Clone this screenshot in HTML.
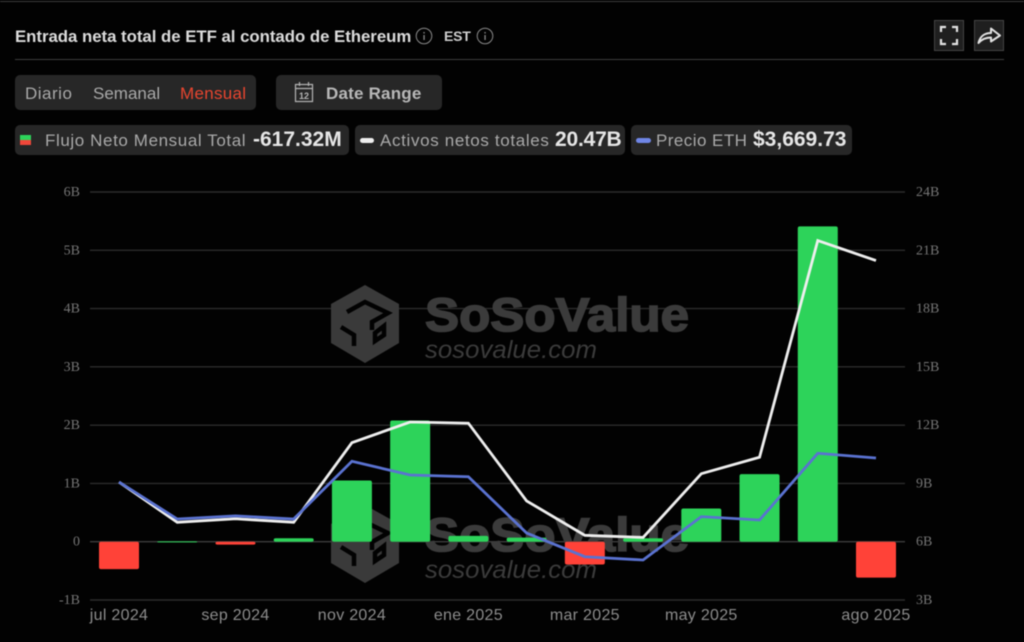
<!DOCTYPE html>
<html lang="es">
<head>
<meta charset="utf-8">
<title>Entrada neta total de ETF al contado de Ethereum</title>
<style>
html,body{margin:0;padding:0;background:#020202;}
#page{position:relative;width:1024px;height:642px;overflow:hidden;background:#020202;font-family:"Liberation Sans",sans-serif;filter:blur(0.5px);}
.abs{position:absolute;white-space:nowrap;}
.panel{position:absolute;background:#272727;border-radius:5px;}
.lbl{color:#a9a9a9;font-size:17px;}
.val{color:#e6e6e6;font-size:21px;font-weight:bold;}
svg{position:absolute;left:0;top:0;}
</style>
</head>
<body>
<div id="page">
  <div class="abs" style="left:0;top:1px;width:1024px;height:1px;background:#3a3a3a"></div>
  <div class="abs" id="title" style="left:15px;top:27px;font-size:16.8px;font-weight:bold;color:#dcdcdc;letter-spacing:-.02px">Entrada neta total de ETF al contado de Ethereum</div>
  <svg style="left:414px;top:26px" width="20" height="20"><circle cx="10" cy="10" r="7.8" fill="none" stroke="#8a8a8a" stroke-width="1"/><rect x="9.4" y="9" width="1.3" height="5" fill="#8a8a8a"/><rect x="9.4" y="6" width="1.3" height="1.5" fill="#8a8a8a"/></svg>
  <div class="abs" style="left:444px;top:28px;font-size:14px;font-weight:bold;color:#cfcfcf;letter-spacing:-.2px">EST</div>
  <svg style="left:475px;top:26px" width="20" height="20"><circle cx="10" cy="10" r="7.8" fill="none" stroke="#8a8a8a" stroke-width="1"/><rect x="9.4" y="9" width="1.3" height="5" fill="#8a8a8a"/><rect x="9.4" y="6" width="1.3" height="1.5" fill="#8a8a8a"/></svg>

  <svg style="left:934px;top:20px" width="31" height="32"><rect x=".5" y=".5" width="29" height="30" fill="#1f1f1f" stroke="#444"/><path d="M7 12V7h5M18 7h5v5M23 19v5h-5M12 24H7v-5" fill="none" stroke="#e2e2e2" stroke-width="2.2"/></svg>
  <svg style="left:974px;top:20px" width="31" height="32"><rect x=".5" y=".5" width="29" height="30" fill="#1f1f1f" stroke="#444"/><path d="M4.5 23C6 16 11 13 17 13V8.5L26 15.500L17 21.500V17.500C12 17.500 8 19 4.500 23Z" fill="none" stroke="#e2e2e2" stroke-width="2" stroke-linejoin="round"/></svg>

  <div class="abs" style="left:15px;top:59px;width:989px;height:1px;background:#3d3d3d"></div>

  <div class="panel" style="left:15px;top:75px;width:241px;height:35px"></div>
  <div class="abs lbl" style="left:25px;top:84px;letter-spacing:.5px">Diario</div>
  <div class="abs lbl" style="left:93px;top:84px">Semanal</div>
  <div class="abs lbl" style="left:180px;top:84px;color:#e8452f;letter-spacing:.3px">Mensual</div>

  <div class="panel" style="left:276px;top:75px;width:166px;height:35px"></div>
  <svg style="left:293px;top:81px" width="22" height="23"><rect x="2.500" y="3.500" width="17" height="17" fill="none" stroke="#b5b5b5" stroke-width="1.200"/><path d="M2.500 7.500H19.500M6.500 1V5M15.500 1V5" stroke="#b5b5b5" stroke-width="1.200"/><text x="11" y="18" font-size="9" font-weight="bold" fill="#b5b5b5" text-anchor="middle" font-family="Liberation Sans, sans-serif">12</text></svg>
  <div class="abs" style="left:326px;top:84px;font-size:17px;font-weight:bold;color:#b8b8b8;letter-spacing:.2px">Date Range</div>

  <div class="panel" style="left:15px;top:125px;width:334px;height:30px"></div>
  <div class="abs" style="left:20px;top:135px;width:11px;height:5px;background:#2dd35a"></div>
  <div class="abs" style="left:20px;top:140px;width:11px;height:5px;background:#f0473a"></div>
  <div class="abs lbl" style="left:45px;top:131px;letter-spacing:.6px">Flujo Neto Mensual Total</div>
  <div class="abs val" style="left:253px;top:128px">-617.32M</div>

  <div class="panel" style="left:355px;top:125px;width:270px;height:30px"></div>
  <div class="abs" style="left:360px;top:138px;width:14px;height:5px;border-radius:3px;background:#eeeeee"></div>
  <div class="abs lbl" style="left:380px;top:131px;letter-spacing:.65px">Activos netos totales</div>
  <div class="abs val" style="left:555px;top:128px;letter-spacing:-.2px">20.47B</div>

  <div class="panel" style="left:631px;top:125px;width:221px;height:30px"></div>
  <div class="abs" style="left:636px;top:138px;width:15px;height:5px;border-radius:3px;background:#6f86e6"></div>
  <div class="abs lbl" style="left:656px;top:131px;letter-spacing:.45px">Precio ETH</div>
  <div class="abs val" style="left:753px;top:128px">$3,669.73</div>

  <svg id="chart" width="1024" height="642" style="pointer-events:none"></svg>
</div>

<script>
const categories = ["jul 2024","ago 2024","sep 2024","oct 2024","nov 2024","dic 2024","ene 2025","feb 2025","mar 2025","abr 2025","may 2025","jun 2025","jul 2025","ago 2025"];
const xTickLabels = ["jul 2024","sep 2024","nov 2024","ene 2025","mar 2025","may 2025","ago 2025"];
const netFlow = [-0.47,0.005,-0.05,0.06,1.05,2.08,0.10,0.07,-0.39,0.06,0.57,1.16,5.41,-0.617];
const totalAssets = [9.07,7.0,7.18,7.0,11.1,12.16,12.1,8.1,6.33,6.22,9.5,10.35,21.5,20.47];
const ethPrice = [3230,2553,2610,2553,3610,3358,3327,2297,1863,1803,2596,2535,3756,3669.73];
const leftTicks = [-1,0,1,2,3,4,5,6];
const leftTickLabels = ["-1B","0","1B","2B","3B","4B","5B","6B"];
const rightTicks = [3,6,9,12,15,18,21,24];
const rightTickLabels = ["3B","6B","9B","12B","15B","18B","21B","24B"];

const NS = "http://www.w3.org/2000/svg";
const svg = document.getElementById("chart");
const plotTop = 192, plotBottom = 600, plotLeft = 90, plotRight = 905;
const firstCenter = 119, lastCenter = 876;
const barWidth = 40;
function xAt(i){ return firstCenter + i * (lastCenter - firstCenter) / (categories.length - 1); }
function linear(v, d0, d1){ return plotBottom - (v - d0) / (d1 - d0) * (plotBottom - plotTop); }
function yLeft(v){ return linear(v, -1, 6); }
function yRight(v){ return linear(v, 3, 24); }
function yPrice(v){ return linear(v, 1071, 8537); }
function make(tag, attrs, parent){
  const el = document.createElementNS(NS, tag);
  for (const k in attrs) el.setAttribute(k, attrs[k]);
  (parent || svg).appendChild(el);
  return el;
}

leftTicks.forEach(function(t, i){
  const y = yLeft(t);
  const line = make("line", {x1: plotLeft, x2: plotRight, y1: y, y2: y, stroke: t === 0 ? "#3c3c3c" : "#2b2b2b", "stroke-width": 1.4});
  
  
  const label = make("text", {x: 80, y: y + 4, "text-anchor": "end", "font-size": 14, fill: "#757575", "font-family": "Liberation Serif, serif"});
  label.textContent = leftTickLabels[i];
  
  
});
rightTicks.forEach(function(t, i){
  const label = make("text", {x: 916, y: yRight(t) + 4, "font-size": 14, fill: "#757575", "font-family": "Liberation Serif, serif"});
  label.textContent = rightTickLabels[i];
  
  
});

[0, 220].forEach(function(dy){
  const g = make("g", {transform: "translate(0," + dy + ")"});
  
  
  make("path", {d: "M365 285L399 304V343L365 363L331 343V304Z", fill: "#3a3a3a"}, g);
  make("path", {d: "M347 312L365 302L388 313L372 322V330M341 327L354 335V346M375 341V333L384 326V335Z", fill: "none", stroke: "#020202", "stroke-width": 4.5}, g);
  const t1 = make("text", {x: 425, y: 331, "font-size": 47, "font-weight": "bold", fill: "#3b3b3b", stroke: "#3b3b3b", "stroke-width": 1.6, "font-family": "Liberation Sans, sans-serif", textLength: 264, lengthAdjust: "spacingAndGlyphs"}, g);
  t1.textContent = "SoSoValue";
  const t2 = make("text", {x: 425, y: 358, "font-size": 25, "font-style": "italic", fill: "#3b3b3b", "font-family": "Liberation Sans, sans-serif", textLength: 172, lengthAdjust: "spacingAndGlyphs"}, g);
  t2.textContent = "sosovalue.com";
});

netFlow.forEach(function(v, i){
  const y0 = yLeft(0), y1 = yLeft(v);
  const bar = make("rect", {x: xAt(i) - barWidth / 2, y: Math.min(y0, y1), width: barWidth, height: Math.max(Math.abs(y1 - y0), 1), rx: 2, fill: v >= 0 ? "#2dd35a" : "#ff4238"});
  
  
});

const whiteLine = make("polyline", {points: totalAssets.map(function(v, i){ return xAt(i) + "," + yRight(v); }).join(" "), fill: "none", stroke: "#eeeeee", "stroke-width": 2.8, "stroke-linejoin": "miter"});


const blueLine = make("polyline", {points: ethPrice.map(function(v, i){ return xAt(i) + "," + yPrice(v); }).join(" "), fill: "none", stroke: "#5a72d0", "stroke-width": 2.8, "stroke-linejoin": "miter"});



xTickLabels.forEach(function(name){
  const label = make("text", {x: xAt(categories.indexOf(name)), y: 620, "text-anchor": "middle", "font-size": 16, "letter-spacing": ".3", fill: "#8c8c8c", "font-family": "Liberation Sans, sans-serif"});
  label.textContent = name;
  
  
});
</script>
</body>
</html>
